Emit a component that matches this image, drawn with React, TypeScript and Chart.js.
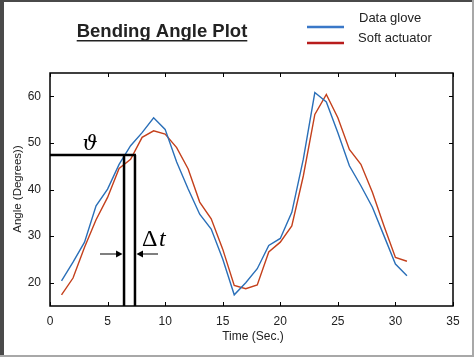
import React, { useEffect, useRef } from "react";
import { Chart, registerables } from "chart.js";

Chart.register(...registerables);

const timeSec = [1, 2, 3, 4, 5, 6, 7, 8, 9, 10, 11, 12, 13, 14, 15, 16, 17, 18, 19, 20, 21, 22, 23, 24, 25, 26, 27, 28, 29, 30, 31];
const dataGlove = [20.4, 24.4, 28.7, 36.5, 40.1, 45.4, 49.4, 52.2, 55.4, 52.9, 45.9, 40.1, 34.7, 31.5, 25.1, 17.4, 20, 23, 28, 29.5, 35.1, 46.5, 60.8, 58.8, 52.2, 45.1, 40.8, 36.2, 30.1, 24, 21.5];
const softActuator = [17.4, 21, 27.6, 33.5, 38.3, 44.5, 46.5, 51.2, 52.6, 51.9, 49, 44.4, 37.3, 33.7, 27.2, 19.4, 18.7, 19.5, 26.6, 28.7, 32.2, 42.9, 56.1, 60.4, 55.4, 48.6, 45.4, 39.4, 32.2, 25.4, 24.6];
const xTicks = [0, 5, 10, 15, 20, 25, 30, 35];
const yTicks = [20, 30, 40, 50, 60];
const thetaLevel = 47.4;
const tGlove = 6.43;
const tActuator = 7.38;

const BLUE = "#2a6fb8";
const RED = "#c4401c";

const overlay = {
  id: "overlay",
  afterDraw(chart: any) {
    const ctx = chart.ctx;
    const a = chart.chartArea;
    const xs = chart.scales.x;
    const ys = chart.scales.y;
    ctx.save();
    // box
    ctx.strokeStyle = "#000";
    ctx.lineWidth = 1.5;
    ctx.strokeRect(a.left, a.top, a.right - a.left, a.bottom - a.top);
    // inward ticks
    ctx.lineWidth = 1;
    const tl = 4;
    xTicks.forEach((v) => {
      const px = Math.round(xs.getPixelForValue(v)) + 0.5;
      ctx.beginPath();
      ctx.moveTo(px, a.bottom);
      ctx.lineTo(px, a.bottom - tl);
      ctx.moveTo(px, a.top);
      ctx.lineTo(px, a.top + tl);
      ctx.stroke();
    });
    yTicks.forEach((v) => {
      const py = Math.round(ys.getPixelForValue(v)) + 0.5;
      ctx.beginPath();
      ctx.moveTo(a.left, py);
      ctx.lineTo(a.left + tl, py);
      ctx.moveTo(a.right, py);
      ctx.lineTo(a.right - tl, py);
      ctx.stroke();
    });
    // annotation lines
    const yTheta = ys.getPixelForValue(thetaLevel);
    const x1 = xs.getPixelForValue(tGlove);
    const x2 = xs.getPixelForValue(tActuator);
    ctx.lineWidth = 2.5;
    ctx.beginPath();
    ctx.moveTo(a.left, yTheta);
    ctx.lineTo(x2 + 1, yTheta);
    ctx.moveTo(x1, yTheta);
    ctx.lineTo(x1, a.bottom);
    ctx.moveTo(x2, yTheta);
    ctx.lineTo(x2, a.bottom);
    ctx.stroke();
    // theta
    ctx.fillStyle = "#000";
    ctx.font = 'italic 21px "DejaVu Serif"';
    ctx.textAlign = "center";
    ctx.textBaseline = "middle";
    ctx.fillText("ϑ", 90, 145);
    // delta t
    ctx.font = '24px "Liberation Serif"';
    ctx.textAlign = "left";
    ctx.fillText("Δ", 142, 240);
    ctx.font = 'italic 24px "Liberation Serif"';
    ctx.fillText("t", 159, 240);
    // arrows
    const ay = 254;
    ctx.lineWidth = 1.2;
    ctx.beginPath();
    ctx.moveTo(100, ay);
    ctx.lineTo(x1 - 6, ay);
    ctx.moveTo(158, ay);
    ctx.lineTo(x2 + 6, ay);
    ctx.stroke();
    ctx.beginPath();
    ctx.moveTo(x1 - 1.5, ay);
    ctx.lineTo(x1 - 8, ay - 3.5);
    ctx.lineTo(x1 - 8, ay + 3.5);
    ctx.closePath();
    ctx.fill();
    ctx.beginPath();
    ctx.moveTo(x2 + 1.5, ay);
    ctx.lineTo(x2 + 8, ay - 3.5);
    ctx.lineTo(x2 + 8, ay + 3.5);
    ctx.closePath();
    ctx.fill();
    // title
    ctx.font = 'bold 18.5px "Liberation Sans", Arial';
    ctx.textAlign = "center";
    ctx.textBaseline = "middle";
    ctx.fillStyle = "#222";
    const title = "Bending Angle Plot";
    ctx.fillText(title, 162, 32);
    const tw = ctx.measureText(title).width;
    ctx.fillRect(162 - tw / 2, 40, tw, 1.5);
    // legend
    ctx.lineWidth = 2.5;
    ctx.strokeStyle = "#3a78c8";
    ctx.beginPath();
    ctx.moveTo(307, 27);
    ctx.lineTo(344, 27);
    ctx.stroke();
    ctx.strokeStyle = "#b81c1c";
    ctx.beginPath();
    ctx.moveTo(307, 43);
    ctx.lineTo(344, 43);
    ctx.stroke();
    ctx.font = '13px "Liberation Sans", Arial';
    ctx.textAlign = "left";
    ctx.fillStyle = "#222";
    ctx.fillText("Data glove", 359, 18);
    ctx.fillText("Soft actuator", 358, 38);
    // axis titles
    ctx.font = '12px "Liberation Sans", Arial';
    ctx.textAlign = "center";
    ctx.fillText("Time (Sec.)", 253, 337);
    ctx.save();
    ctx.translate(18, 189);
    ctx.rotate(-Math.PI / 2);
    ctx.font = '11.5px "Liberation Sans", Arial';
    ctx.fillText("Angle (Degrees))", 0, 0);
    ctx.restore();
    // outer frame
    ctx.fillStyle = "#4a4a4a";
    ctx.fillRect(0, 0, chart.width, 2);
    ctx.fillRect(0, 0, 4, chart.height);
    ctx.fillStyle = "#a8a8a8";
    ctx.fillRect(chart.width - 2, 0, 2, chart.height);
    ctx.fillRect(0, chart.height - 2, chart.width, 2);
    ctx.restore();
  },
};

export default function App() {
  const ref = useRef<HTMLCanvasElement>(null);
  useEffect(() => {
    if (!ref.current) return;
    const chart = new Chart(ref.current, {
      type: "line",
      data: {
        datasets: [
          {
            label: "Data glove",
            data: timeSec.map((t, i) => ({ x: t, y: dataGlove[i] })),
            borderColor: BLUE,
            borderWidth: 1.4,
            pointRadius: 0,
            tension: 0,
          },
          {
            label: "Soft actuator",
            data: timeSec.map((t, i) => ({ x: t, y: softActuator[i] })),
            borderColor: RED,
            borderWidth: 1.4,
            pointRadius: 0,
            tension: 0,
          },
        ],
      },
      options: {
        animation: false,
        responsive: false,
        devicePixelRatio: 1,
        layout: { padding: { top: 73, right: 21, left: 0, bottom: 0 } },
        plugins: { legend: { display: false }, title: { display: false }, tooltip: { enabled: false } },
        scales: {
          x: {
            type: "linear",
            min: 0,
            max: 35,
            afterBuildTicks: (s: any) => {
              s.ticks = xTicks.map((v) => ({ value: v }));
            },
            afterFit: (s: any) => {
              s.height = 51;
            },
            grid: { display: false, drawTicks: false },
            border: { display: false },
            ticks: {
              padding: 8,
              color: "#222",
              font: { family: '"Liberation Sans", Arial', size: 12 },
              maxRotation: 0,
            },
          },
          y: {
            type: "linear",
            min: 15,
            max: 65,
            afterBuildTicks: (s: any) => {
              s.ticks = yTicks.map((v) => ({ value: v }));
            },
            afterFit: (s: any) => {
              s.width = 50;
            },
            grid: { display: false, drawTicks: false },
            border: { display: false },
            ticks: {
              padding: 9,
              color: "#222",
              font: { family: '"Liberation Sans", Arial', size: 12 },
            },
          },
        },
      },
      plugins: [overlay],
    });
    return () => chart.destroy();
  }, []);
  return (
    <div style={{ position: "absolute", left: 0, top: 0, width: 474, height: 357, background: "#fff" }}>
      <canvas ref={ref} width={474} height={357} style={{ display: "block" }} />
    </div>
  );
}
